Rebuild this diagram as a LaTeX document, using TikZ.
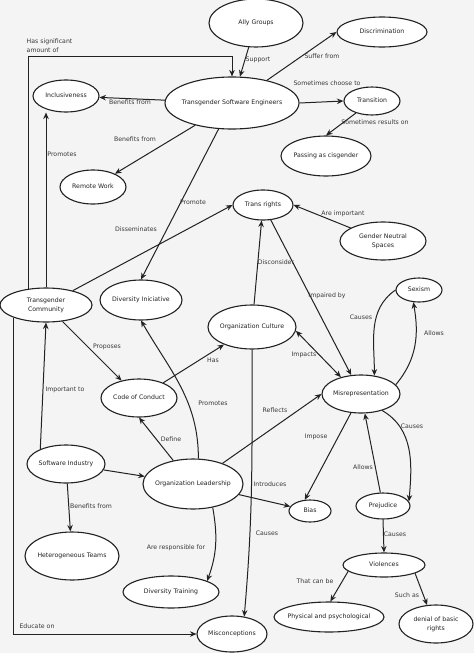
\documentclass[tikz,border=0pt]{standalone}
\usepackage{fontspec}
\setmainfont{DejaVu Sans}
\usetikzlibrary{shapes.geometric,arrows.meta}
\definecolor{bgc}{HTML}{F4F4F4}
\definecolor{ink}{HTML}{222222}
\newcommand\ctext[1]{\makebox[0pt]{\begin{tabular}{@{}c@{}}#1\end{tabular}}}
\begin{document}
\begin{tikzpicture}[x=1pt,y=-1pt,
  concept/.style={ellipse,draw=ink,line width=1.1pt,fill=white,inner sep=0pt,font=\fontsize{6.2}{8.6}\selectfont,text=ink},
  lbl/.style={font=\fontsize{6.2}{8.6}\selectfont,text=ink!90,inner sep=0.5pt},
  link/.style={draw=ink,line width=1pt,-{Stealth[length=6.5pt,width=5.5pt]}},
  linkboth/.style={draw=ink,line width=1pt,{Stealth[length=6.5pt,width=5.5pt]}-{Stealth[length=6.5pt,width=5.5pt]}},
]
\useasboundingbox (0,0) rectangle (474,653);
\fill[bgc] (0,0) rectangle (474,653);

% concepts
\node[concept,minimum width=94pt,minimum height=48pt] (ally) at (256,23) {\ctext{Ally Groups}};
\node[concept,minimum width=90pt,minimum height=30pt] (disc) at (382,32) {\ctext{Discrimination}};
\node[concept,minimum width=134pt,minimum height=52pt] (tse) at (232,103) {\ctext{Transgender Software Engineers}};
\node[concept,minimum width=66pt,minimum height=32pt] (incl) at (66,96) {\ctext{Inclusiveness}};
\node[concept,minimum width=56pt,minimum height=28pt] (trans) at (372,101) {\ctext{Transition}};
\node[concept,minimum width=90pt,minimum height=40pt] (pass) at (326,156) {\ctext{Passing as cisgender}};
\node[concept,minimum width=66pt,minimum height=34pt] (remote) at (93,187) {\ctext{Remote Work}};
\node[concept,minimum width=60pt,minimum height=30pt] (tr) at (263,205) {\ctext{Trans rights}};
\node[concept,minimum width=86pt,minimum height=38pt] (gns) at (383,241) {\ctext{Gender Neutral\\Spaces}};
\node[concept,minimum width=46pt,minimum height=24pt] (sexism) at (419,290) {\ctext{Sexism}};
\node[concept,minimum width=88pt,minimum height=44pt] (oc) at (252,327) {\ctext{Organization Culture}};
\node[concept,minimum width=82pt,minimum height=40pt] (di) at (141,300) {\ctext{Diversity Iniciative}};
\node[concept,minimum width=92pt,minimum height=34pt] (tc) at (46,305) {\ctext{Transgender\\Community}};
\node[concept,minimum width=76pt,minimum height=38pt] (coc) at (139,398) {\ctext{Code of Conduct}};
\node[concept,minimum width=78pt,minimum height=38pt] (mis) at (361,394) {\ctext{Misrepresentation}};
\node[concept,minimum width=78pt,minimum height=38pt] (si) at (66,464) {\ctext{Software Industry}};
\node[concept,minimum width=100pt,minimum height=50pt] (ol) at (193,484) {\ctext{Organization Leadership}};
\node[concept,minimum width=42pt,minimum height=22pt] (bias) at (310,511) {\ctext{Bias}};
\node[concept,minimum width=54pt,minimum height=26pt] (prej) at (383,506) {\ctext{Prejudice}};
\node[concept,minimum width=94pt,minimum height=48pt] (ht) at (72,556) {\ctext{Heterogeneous Teams}};
\node[concept,minimum width=96pt,minimum height=32pt] (dt) at (171,592) {\ctext{Diversity Training}};
\node[concept,minimum width=82pt,minimum height=24pt] (viol) at (384,565) {\ctext{Violences}};
\node[concept,minimum width=110pt,minimum height=30pt] (phys) at (329,617) {\ctext{Physical and psychological}};
\node[concept,minimum width=74pt,minimum height=38pt] (denial) at (436,624) {\ctext{denial of basic\\rights}};
\node[concept,minimum width=70pt,minimum height=36pt] (misc) at (232,634) {\ctext{Misconceptions}};

% connectors
\coordinate (hsc) at (232,56);
\draw[link] (ally) -- (tse);
\draw[link] (tc.138) |- (hsc) -- (tse.north);
\draw[link] (tse) -- (incl);
\draw[link] (tse) -- (remote);
\draw[link] (tse.33) -- (disc.west);
\draw[link] (tse.east) -- (trans.west);
\draw[link] (trans) -- (pass.north);
\draw[link] (tse) -- (di.north);
\draw[link] (tc) -- (tr.west);
\draw[link] (tc.north) -- (tc.north |- incl.south);
\draw[link] (gns) -- (tr.east);
\draw[link] (oc) -- (tr);
\draw[link] (tr) -- (mis);
\draw[linkboth] (oc.-5) -- (mis.140);
\draw[link] (sexism.west) to[out=215,in=90] (mis.54);
\draw[link] (mis.15) to[out=50,in=-80] (sexism.-115);
\draw[link] (tc) -- (coc);
\draw[link] (coc) -- (oc);
\draw[link] (ol.78) to[out=90,in=-60] (di.south);
\draw[link] (ol.130) -- (coc.south);
\draw[link] (ol) -- (mis.west);
\draw[link] (si.150) -- (tc.south);
\draw[link] (si) -- (ol);
\draw[link] (si) -- (ht);
\draw[link] (ol) -- (bias);
\draw[link] (mis) -- (bias.115);
\draw[link] (prej) -- (mis);
\draw[link] (mis.-38) to[out=-30,in=85] (prej.10);
\draw[link] (oc.south) to[out=-90,in=85] (misc.55);
\draw[link] (ol.-50) to[out=-80,in=70] (dt.17);
\draw[link] (prej.south) -- (viol.north);
\draw[link] (viol.-170) -- (phys.85);
\draw[link] (viol.-15) -- (denial.115);
\draw[link] (tc.201) |- (misc.west);

% labels
\node[lbl] (l1) at (258,60) {Support};
\node[lbl,anchor=north west,align=left] (l2) at (26,38) {Has significant\\amount of};
\node[lbl] (l3) at (130,102) {Benefits from};
\node[lbl] (l4) at (135,139) {Benefits from};
\node[lbl] (l5) at (322,56) {Suffer from};
\node[lbl] (l6) at (327,83) {Sometimes choose to};
\node[lbl] (l7) at (375,122) {Sometimes results on};
\node[lbl] (l8) at (193,202) {Promote};
\node[lbl] (l9) at (136,229) {Disseminates};
\node[lbl] (l10) at (62,154) {Promotes};
\node[lbl] (l11) at (343,214) {Are important};
\node[lbl] (l12) at (276,262) {Disconsider};
\node[lbl] (l13) at (327,296) {Impaired by};
\node[lbl] (l14) at (304,355) {Impacts};
\node[lbl] (l15) at (361,317) {Causes};
\node[lbl] (l16) at (434,333) {Allows};
\node[lbl] (l17) at (107,347) {Proposes};
\node[lbl] (l18) at (213,360) {Has};
\node[lbl] (l19) at (213,403) {Promotes};
\node[lbl] (l20) at (171,439) {Define};
\node[lbl] (l21) at (275,410) {Reflects};
\node[lbl] (l22) at (65,390) {Important to};
\node[lbl] (l23) at (91,506) {Benefits from};
\node[lbl] (l24) at (270,484) {Introduces};
\node[lbl] (l25) at (316,437) {Impose};
\node[lbl] (l26) at (363,467) {Allows};
\node[lbl] (l27) at (412,426) {Causes};
\node[lbl] (l28) at (267,533) {Causes};
\node[lbl] (l29) at (176,548) {Are responsible for};
\node[lbl] (l30) at (395,534) {Causes};
\node[lbl] (l31) at (315,581) {That can be};
\node[lbl] (l32) at (407,595) {Such as};
\node[lbl] (l33) at (37,626) {Educate on};
\end{tikzpicture}
\end{document}
